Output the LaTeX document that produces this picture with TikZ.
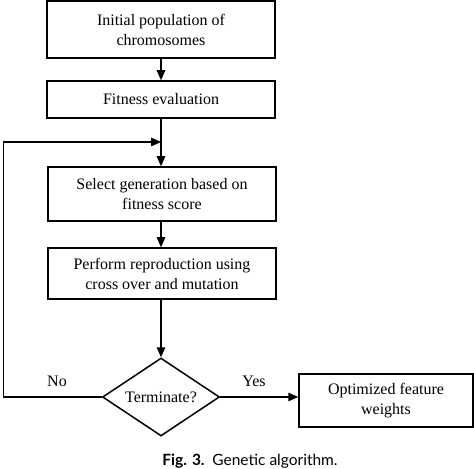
\documentclass[tikz,border=0pt]{standalone}
\usepackage{fontspec}
\setmainfont{Liberation Serif}
\newfontfamily\capfont{Lato}
\usetikzlibrary{arrows.meta,shapes.geometric}
\begin{document}
\begin{tikzpicture}[x=1bp,y=-1bp,
  box/.style={draw, line width=1.5bp, rectangle, align=center, inner sep=0pt,
    font=\fontsize{16bp}{20bp}\selectfont},
  dec/.style={draw, line width=1.5bp, diamond, aspect=1.5, inner sep=0pt,
    minimum width=117bp, minimum height=78bp, font=\fontsize{16bp}{20bp}\selectfont},
  conn/.style={line width=1.5bp, -{Triangle[length=10bp,width=8.5bp]}},
  lbl/.style={font=\fontsize{16bp}{20bp}\selectfont}]
\useasboundingbox (0,0) rectangle (474,469);
\node[box, minimum width=228bp, minimum height=57bp] (b1) at (161,29.5) {Initial population of\\chromosomes};
\node[box, minimum width=228bp, minimum height=37bp] (b2) at (161,99.5) {Fitness evaluation};
\node[box, minimum width=228bp, minimum height=54bp] (b3) at (162,194) {Select generation based on\\fitness score};
\node[box, minimum width=228bp, minimum height=51bp] (b4) at (162,273.5) {Perform reproduction using\\cross over and mutation};
\node[dec] (d) at (161,397) {Terminate?};
\node[box, minimum width=174bp, minimum height=53bp] (b5) at (386,400.5) {Optimized feature\\weights};
\coordinate (j) at (161,142);
\coordinate (c1) at (3.5,397);
\coordinate (c2) at (3.5,142);
\draw[conn] (b1.south -| 161,0) -- (b2.north -| 161,0);
\draw[conn] (b2.south -| 161,0) -- (b3.north -| 161,0);
\draw[conn] (b3.south -| 161,0) -- (b4.north -| 161,0);
\draw[conn] (b4.south -| 161,0) -- (d.north);
\draw[conn] (d.east) -- (b5.west |- d.east);
\draw[conn] (d.west) -- (c1) -- (c2) -- (j);
\node[lbl] (no) at (57,381) {No};
\node[lbl] (yes) at (254,381) {Yes};
\node[font=\capfont\fontsize{15.5bp}{18bp}\selectfont] (cap) at (250,461) {\textbf{Fig. 3.}\enspace Genetic algorithm.};
\end{tikzpicture}
\end{document}
